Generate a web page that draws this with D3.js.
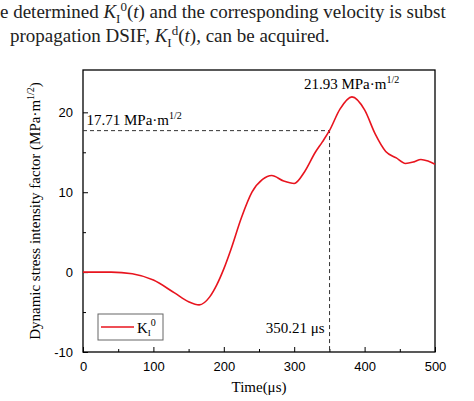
<!DOCTYPE html>
<html><head><meta charset="utf-8">
<script src="https://cdn.jsdelivr.net/npm/d3@7"></script>
<style>body{margin:0;background:#fff}svg{display:block}</style>
</head><body>
<svg id="c" width="474" height="401"></svg>
<script>
// K_I^0 curve
const timeUs = [0,40,70,100,130,150,165,180,190,200,210,225,240,255,268,285,300,315,330,340,350,365,382,400,415,430,445,458,470,480,490,500];
const kI0    = [0,0,-0.2,-1,-2.6,-3.7,-4.1,-3.1,-1.6,0.4,2.8,6.8,10,11.6,12.1,11.4,11.1,12.6,15,16.3,17.7,20.4,21.93,20.3,17.3,15.1,14.3,13.6,13.8,14.1,13.9,13.5];
const xTicks = [0,100,200,300,400,500];
const yTicks = [-10,0,10,20];
const crit = {t: 350.21, k: 17.71};
const peak = {t: 382, k: 21.93};

const svg = d3.select("#c");
const serif = "Liberation Serif, Times New Roman, serif";
const sans = "Liberation Sans, Arial, sans-serif";
const L = 83, R = 435, T = 70, B = 352;
const x = d3.scaleLinear().domain([0,500]).range([L,R]);
const y = d3.scaleLinear().domain([-10,25.3]).range([B,T]);

// caption text above the chart
const cap = svg.append("text").attr("font-family",serif).attr("font-size",19).attr("fill","#222");
cap.append("tspan").attr("x",0).attr("y",18).text("e determined ");
cap.append("tspan").attr("font-style","italic").text("K");
cap.append("tspan").attr("font-size",13).attr("dy",5).text("I");
cap.append("tspan").attr("font-size",13).attr("dy",-12).text("0");
cap.append("tspan").attr("dy",7).text("(");
cap.append("tspan").attr("font-style","italic").text("t");
cap.append("tspan").text(") and the corresponding velocity is subst");
const cap2 = svg.append("text").attr("font-family",serif).attr("font-size",19).attr("fill","#222");
cap2.append("tspan").attr("x",10).attr("y",42).text("propagation DSIF, ");
cap2.append("tspan").attr("font-style","italic").text("K");
cap2.append("tspan").attr("font-size",13).attr("dy",5).text("I");
cap2.append("tspan").attr("font-size",13).attr("dy",-12).text("d");
cap2.append("tspan").attr("dy",7).text("(");
cap2.append("tspan").attr("font-style","italic").text("t");
cap2.append("tspan").text("), can be acquired.");

// axes, ticks inward
const ax = svg.append("g").attr("transform",`translate(0,${B})`)
  .call(d3.axisBottom(x).tickValues(d3.range(0,501,50)).tickSize(-5).tickPadding(10)
    .tickFormat(d => xTicks.includes(d) ? d : ""));
const ay = svg.append("g").attr("transform",`translate(${L},0)`)
  .call(d3.axisLeft(y).tickValues(d3.range(-10,25,5)).tickSize(-5).tickPadding(10)
    .tickFormat(d => yTicks.includes(d) ? d : ""));
[ax,ay].forEach(g => {
  g.select(".domain").remove();
  g.selectAll("text").attr("font-family",sans).attr("font-size",13).attr("fill","#000");
  g.selectAll("line").attr("stroke","#000");
});
ax.selectAll(".tick line").attr("y2", d => xTicks.includes(d) ? -5 : -3);
ay.selectAll(".tick line").attr("x2", d => yTicks.includes(d) ? 5 : 3);
svg.append("rect").attr("x",L).attr("y",T).attr("width",R-L).attr("height",B-T)
  .attr("fill","none").attr("stroke","#000").attr("stroke-width",1.3);

// dashed guides
svg.append("path").attr("fill","none").attr("stroke","#333").attr("stroke-dasharray","4,3")
  .attr("d",`M${x(0)},${y(crit.k)}H${x(crit.t)}V${y(-10)}`);

// curve
svg.append("path").datum(timeUs.map((t,i)=>[t,kI0[i]]))
  .attr("fill","none").attr("stroke","#e8141e").attr("stroke-width",1.6)
  .attr("d", d3.line().x(d=>x(d[0])).y(d=>y(d[1])).curve(d3.curveMonotoneX));

// annotations
function mpa(xp, yp, val) {
  const t = svg.append("text").attr("x",xp).attr("y",yp).attr("font-family",serif).attr("font-size",15).attr("fill","#000");
  t.append("tspan").text(val + " MPa·m");
  t.append("tspan").attr("font-size",10).attr("dy",-6).text("1/2");
}
mpa(x(5), y(crit.k)-6, crit.k.toFixed(2));
mpa(x(peak.t)-48, y(peak.k)-8, peak.k.toFixed(2));
svg.append("text").attr("x",x(crit.t)-5).attr("y",333).attr("text-anchor","end")
  .attr("font-family",serif).attr("font-size",15).text(crit.t.toFixed(2) + " μs");

// axis titles
svg.append("text").attr("x",(L+R)/2).attr("y",392).attr("text-anchor","middle")
  .attr("font-family",serif).attr("font-size",15).text("Time(μs)");
const yt = svg.append("text").attr("transform",`translate(40,${(T+B)/2}) rotate(-90)`)
  .attr("text-anchor","middle").attr("font-family",serif).attr("font-size",15);
yt.append("tspan").text("Dynamic stress intensity factor (MPa·m");
yt.append("tspan").attr("font-size",10).attr("dy",-6).text("1/2");
yt.append("tspan").attr("dy",6).text(")");

// legend
svg.append("rect").attr("x",98).attr("y",314).attr("width",65).attr("height",26)
  .attr("fill","#fff").attr("stroke","#666");
svg.append("line").attr("x1",101).attr("x2",134).attr("y1",327).attr("y2",327)
  .attr("stroke","#e8141e").attr("stroke-width",1.6);
const lg = svg.append("text").attr("x",137).attr("y",333).attr("font-family",serif).attr("font-size",15);
lg.append("tspan").text("K");
lg.append("tspan").attr("font-size",9).attr("dy",3).text("I");
lg.append("tspan").attr("font-size",10).attr("dy",-10).text("0");
</script>
</body></html>
